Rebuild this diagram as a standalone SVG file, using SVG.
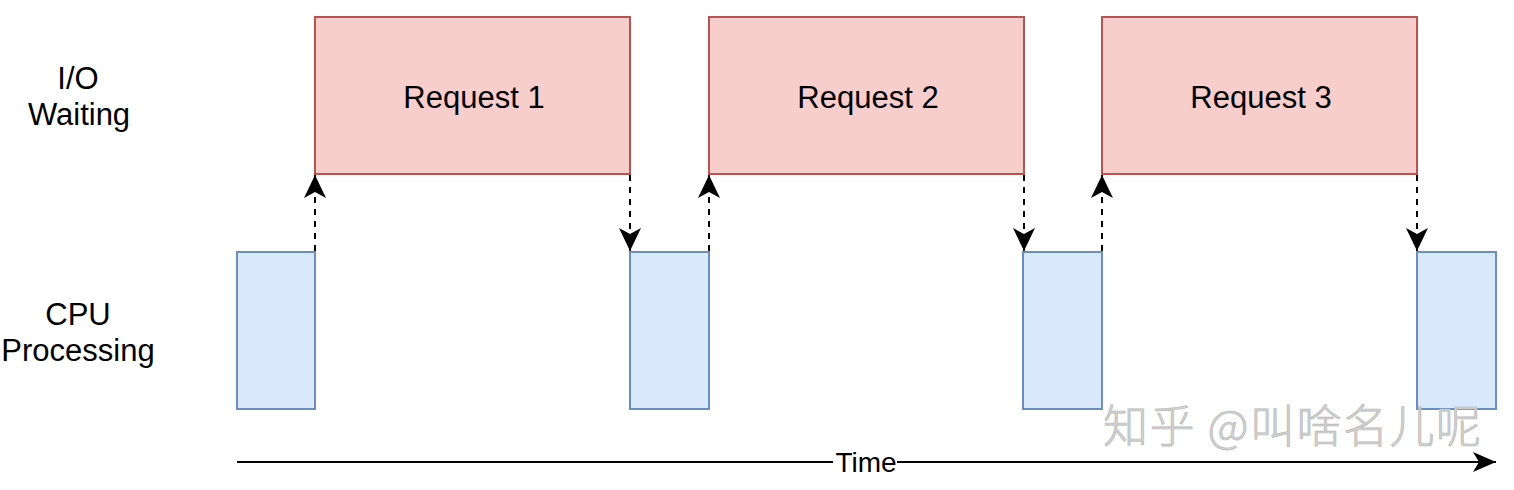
<svg xmlns="http://www.w3.org/2000/svg" width="1514" height="490" viewBox="0 0 1514 490">
<style>
.req{fill:#f8cecc;stroke:#b85450;stroke-width:2}
.cpu{fill:#dae8fc;stroke:#6c8ebf;stroke-width:2}
.lbl{font-family:"Liberation Sans",Arial,sans-serif;font-size:31px;fill:#000;text-anchor:middle}
.dash{stroke:#000;stroke-width:2;stroke-dasharray:6 6;fill:none}
.wm{font-family:"Noto Sans CJK SC","Liberation Sans",sans-serif;font-size:45px;font-weight:300;fill:#d2d2d2;stroke:#b8b8b8;stroke-width:0.7;letter-spacing:1.5px}
</style>
<defs>
<marker id="ahd" viewBox="0 0 24 24" refX="23" refY="12" markerWidth="24" markerHeight="24" markerUnits="userSpaceOnUse" orient="auto">
<path d="M0,1 L23,12 L0,23 L6,12 Z" fill="#000"/>
</marker>
<marker id="aht" viewBox="0 0 24 24" refX="23" refY="12" markerWidth="24" markerHeight="24" markerUnits="userSpaceOnUse" orient="auto">
<path d="M0,2 L23,12 L0,22 L6,12 Z" fill="#000"/>
</marker>
</defs>
<rect width="1514" height="490" fill="#fff"/>
<g id="labels">
<text class="lbl" x="78" y="89">I/O</text>
<text class="lbl" x="79" y="125">Waiting</text>
<text class="lbl" x="78" y="325">CPU</text>
<text class="lbl" x="78" y="361">Processing</text>
</g>
<g id="req1"><rect class="req" x="315" y="17" width="315" height="157"/><text class="lbl" x="474" y="108">Request 1</text></g>
<g id="req2"><rect class="req" x="709" y="17" width="315" height="157"/><text class="lbl" x="868" y="108">Request 2</text></g>
<g id="req3"><rect class="req" x="1102" y="17" width="315" height="157"/><text class="lbl" x="1261" y="108">Request 3</text></g>
<g id="cpu1"><rect class="cpu" x="237" y="252" width="78" height="157"/></g>
<g id="cpu2"><rect class="cpu" x="630" y="252" width="79" height="157"/></g>
<g id="cpu3"><rect class="cpu" x="1023" y="252" width="79" height="157"/></g>
<g id="cpu4"><rect class="cpu" x="1417" y="252" width="79" height="157"/></g>
<g id="connectors">
<line class="dash" x1="315" y1="251" x2="315" y2="175" marker-end="url(#ahd)"/>
<line class="dash" x1="630" y1="175" x2="630" y2="251" marker-end="url(#ahd)"/>
<line class="dash" x1="709" y1="251" x2="709" y2="175" marker-end="url(#ahd)"/>
<line class="dash" x1="1024" y1="175" x2="1024" y2="251" marker-end="url(#ahd)"/>
<line class="dash" x1="1102" y1="251" x2="1102" y2="175" marker-end="url(#ahd)"/>
<line class="dash" x1="1417" y1="175" x2="1417" y2="251" marker-end="url(#ahd)"/>
<line x1="237" y1="462" x2="1496" y2="462" stroke="#000" stroke-width="2" marker-end="url(#aht)"/>
<rect x="833" y="450" width="64" height="26" fill="#fff"/>
<text x="866" y="472" font-family="Liberation Sans,Arial,sans-serif" font-size="28" text-anchor="middle">Time</text>
</g>
<text class="wm" x="1103" y="443">知乎 @叫啥名儿呢</text>
</svg>
